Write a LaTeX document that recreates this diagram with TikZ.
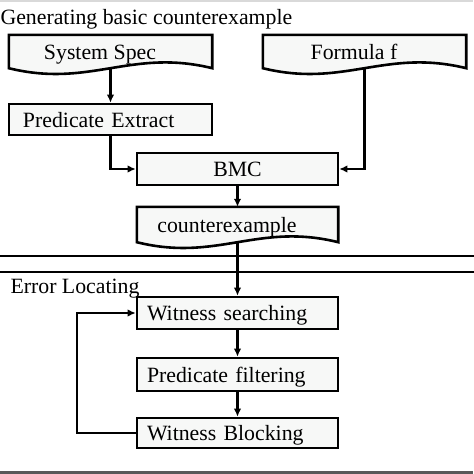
\documentclass[tikz,border=0pt]{standalone}
\usepackage{fontspec}
\setmainfont{Liberation Serif}
\usetikzlibrary{arrows.meta,calc,backgrounds}
\definecolor{boxfill}{HTML}{F7F8F7}
\tikzset{
  box/.style={draw,line width=2.6pt,fill=boxfill,inner ysep=0pt,inner xsep=10pt,
    text width=181pt,align=left,text height=15pt,text depth=0pt},
  doc/.style={inner sep=0pt,text height=15pt,text depth=0pt,
    execute at begin node={\hspace*{-21pt}}},
  docline/.style={draw,line width=2.6pt,fill=boxfill},
  arrow/.style={line width=2.3pt,-{Latex[length=8pt,width=7.5pt]}},
  sepline/.style={line width=2.3pt}
}
% outline of a box with a wavy bottom, round node #1
\newcommand\docoutline[1]{%
  \draw[docline] (#1.south west) -- (#1.north west) -- (#1.north east) -- (#1.south east)
    .. controls ($(#1.south east)!0.4!(#1.south west)+(0,-20)$)
    and ($(#1.south east)!0.6!(#1.south west)+(0,20)$) .. (#1.south west) -- cycle;}
\begin{document}
\begin{tikzpicture}[x=1pt,y=-1pt,font=\fontsize{21.8}{24}\selectfont]
\useasboundingbox (0,0) rectangle (474,474);
\fill[gray!30] (0,0) rectangle (473,2);
\fill[black!65] (0,471) rectangle (473,474);
% generating basic counterexample
\node[anchor=base west] (gentitle) at (-3,24) {Generating basic counterexample};
\node[doc,minimum width=203pt,minimum height=33pt] (spec) at (110.5,51.5) {System Spec};
\node[doc,minimum width=203pt,minimum height=33pt] (formula) at (364.5,51.5) {Formula f};
\node[box,text width=175pt,inner xsep=14pt,minimum height=31pt] (extract) at (110.5,119.5) {Predicate Extract};
\node[box,align=center,minimum height=32pt] (bmc) at (237.5,169) {BMC};
\node[doc,minimum width=201pt,minimum height=35pt] (cex) at (237.5,224.5) {counterexample};
\begin{scope}[on background layer]
\docoutline{spec}
\docoutline{formula}
\docoutline{cex}
\end{scope}
\draw[arrow] (spec.south) -- (extract.north);
\draw[arrow] (extract.south) |- (bmc.west);
\draw[arrow] (formula.south) |- (bmc.east);
\draw[arrow] (bmc.south) -- (cex.north);
% separator
\draw[sepline] (0,256) -- (474,256);
\draw[sepline] (0,272) -- (474,272);
% error locating
\node[anchor=base west] (errtitle) at (7,293) {Error Locating};
\node[box,minimum height=32pt] (search) at (237.5,313) {Witness searching};
\node[box,minimum height=33pt] (filter) at (237.5,374.5) {Predicate filtering};
\node[box,minimum height=30pt] (block) at (237.5,433) {Witness Blocking};
\draw[arrow] (cex.south) -- (search.north);
\draw[arrow] (search.south) -- (filter.north);
\draw[arrow] (filter.south) -- (block.north);
\draw[arrow] (block.west) -- ++(-59,0) |- (search.west);
\end{tikzpicture}
\end{document}
